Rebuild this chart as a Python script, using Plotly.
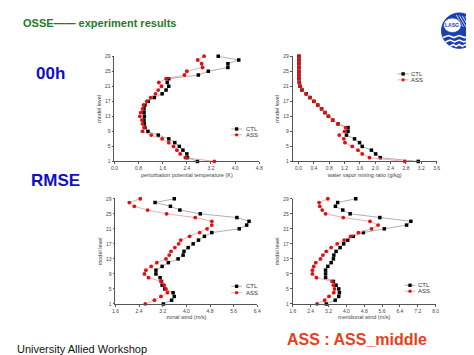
import plotly.graph_objects as go

levels = list(range(1, 30))

# perturbation potential temperature (K), level 1..29
ppt_ctl = [2.75, 2.42, 2.40, 2.27, 2.15, 2.00, 1.80, 1.45, 1.11, 1.01, 0.99, 0.98, 0.99, 0.98, 0.98,
           1.01, 1.12, 1.32, 1.58, 1.71, 1.80, 1.75, 1.80, 2.78, 3.11, 3.76, 3.76, 4.12, 3.44]
ppt_ass = [3.31, 2.35, 2.18, 2.07, 1.96, 1.80, 1.58, 1.22, 0.93, 0.98, 0.93, 0.91, 0.84, 0.87, 0.93,
           0.96, 1.07, 1.20, 1.36, 1.45, 1.56, 1.47, 1.71, 2.32, 2.40, 2.92, 2.89, 2.76, 2.97]

# water vapor mixing ratio (g/kg)
wv_ctl = [3.12, 2.13, 2.01, 1.90, 1.66, 1.59, 1.46, 1.25, 1.29, 1.29, 1.03, 0.89, 0.78, 0.69, 0.60,
          0.50, 0.40, 0.30, 0.20, 0.09, 0.04, 0.02, 0.01, 0.01, 0.01, 0.01, 0.01, 0.01, 0.01]
wv_ass = [2.77, 1.85, 1.66, 1.55, 1.40, 1.21, 1.18, 1.06, 1.20, 1.23, 1.03, 0.89, 0.78, 0.69, 0.60,
          0.50, 0.40, 0.30, 0.20, 0.09, 0.04, 0.02, 0.01, 0.01, 0.01, 0.01, 0.01, 0.01, 0.01]

# zonal wind (m/s)
u_ctl = [3.22, 3.50, 3.59, 3.55, 3.27, 3.18, 3.16, 3.11, 2.97, 2.97, 3.18, 3.39, 3.72, 3.89, 3.92,
         4.06, 4.23, 4.41, 4.61, 4.86, 5.79, 6.04, 6.12, 5.71, 4.47, 3.78, 3.46, 2.94, 3.59]
u_ass = [2.61, 2.92, 3.14, 3.36, 3.31, 3.25, 3.14, 2.72, 2.58, 2.63, 2.81, 3.00, 3.31, 3.42, 3.48,
         3.61, 3.74, 3.81, 4.11, 4.45, 4.70, 4.86, 4.86, 4.30, 3.33, 2.69, 2.24, 2.07, 2.44]

# meridional wind (m/s)
v_ctl = [3.10, 3.50, 3.66, 3.69, 3.66, 3.54, 3.42, 3.07, 3.07, 3.07, 3.17, 3.32, 3.42, 3.44, 3.54,
         3.72, 3.88, 4.06, 4.31, 4.76, 5.70, 6.70, 6.89, 5.50, 4.17, 3.84, 3.51, 3.61, 4.42]
v_ass = [2.69, 3.03, 3.22, 3.44, 3.47, 3.42, 3.36, 2.66, 2.48, 2.48, 2.54, 2.63, 2.84, 2.95, 3.10,
         3.32, 3.59, 3.90, 4.19, 4.54, 5.13, 5.42, 5.06, 3.86, 3.07, 2.92, 2.81, 2.78, 3.17]

series_names = ["CTL", "ASS"]
x_titles = ["perturbation potential temperature (K)", "water vapor mixing ratio (g/kg)",
            "zonal wind (m/s)", "meridional wind (m/s)"]
x_ranges = [[0, 4.8], [-0.15, 3.6], [1.6, 6.4], [1.6, 8.0]]
x_dticks = [0.8, 0.4, 0.8, 0.8]
y_ticks = [1, 5, 9, 13, 17, 21, 25, 29]

W, H = 474, 355
def px(x):
    return x / W
def py(y):
    return 1 - y / H

boxes = [(105, 252, 46, 153), (286, 432, 46, 153), (106, 250, 191, 298), (286, 431, 191, 298)]
# legend: marker centre x, text x, row y (ctl), row y (ass)
legend_pos = [(229, 236, 120, 126), (398, 404, 64, 70), (229, 236, 280, 286.5), (405, 411, 279, 285)]
data = [(ppt_ctl, ppt_ass), (wv_ctl, wv_ass), (u_ctl, u_ass), (v_ctl, v_ass)]

CTL_LINE, ASS_LINE = "#9a9a9a", "#e79a9a"
CTL_MK, ASS_MK = "black", "#e01010"

fig = go.Figure()
tick_font = dict(family="Liberation Sans, Arial", size=5, color="#444")
shapes = []
annotations = []
for i, ((ctl, ass), box) in enumerate(zip(data, boxes)):
    n = "" if i == 0 else str(i + 1)
    fig.add_trace(go.Scatter(x=ctl, y=levels, mode="lines+markers", name=series_names[0],
                             xaxis="x" + n, yaxis="y" + n, showlegend=False, cliponaxis=False,
                             line=dict(color=CTL_LINE, width=0.8),
                             marker=dict(symbol="square", size=3.5, color=CTL_MK)))
    fig.add_trace(go.Scatter(x=ass, y=levels, mode="lines+markers", name=series_names[1],
                             xaxis="x" + n, yaxis="y" + n, showlegend=False, cliponaxis=False,
                             line=dict(color=ASS_LINE, width=0.8),
                             marker=dict(symbol="circle", size=3.8, color=ASS_MK)))
    x0, x1, y0, y1 = box
    fig.layout["xaxis" + n] = dict(
        domain=[px(x0), px(x1)], range=x_ranges[i], anchor="y" + n,
        tick0=0, dtick=x_dticks[i], tickformat=".1f", ticks="outside", ticklen=2,
        tickcolor="#555", showline=True, linecolor="#555", linewidth=0.8,
        showgrid=False, zeroline=False, tickfont=tick_font,
        title=dict(text=x_titles[i], font=dict(family="Liberation Sans, Arial", size=5.5, color="#444"), standoff=2))
    fig.layout["yaxis" + n] = dict(
        domain=[py(y1), py(y0)], range=[1, 29], anchor="x" + n,
        tickvals=y_ticks, ticks="outside", ticklen=2, tickcolor="#555",
        showline=True, linecolor="#555", linewidth=0.8,
        showgrid=False, zeroline=False, tickfont=tick_font,
        title=dict(text="model level", font=dict(family="Liberation Sans, Arial", size=5.5, color="#444"), standoff=3))
    # manual legend (compact, as in the Origin chart)
    mx, tx, yc, ya = legend_pos[i]
    for name, yy, lc, mc, sym in [(series_names[0], yc, CTL_LINE, CTL_MK, "rect"),
                                  (series_names[1], ya, ASS_LINE, ASS_MK, "circle")]:
        shapes.append(dict(type="line", xref="paper", yref="paper", x0=px(mx - 5.5), x1=px(mx + 5.5),
                           y0=py(yy), y1=py(yy), line=dict(color=lc, width=0.8)))
        shapes.append(dict(type=sym, xref="paper", yref="paper", x0=px(mx - 1.7), x1=px(mx + 1.7),
                           y0=py(yy + 1.7), y1=py(yy - 1.7), line=dict(width=0), fillcolor=mc))
        annotations.append(dict(text=name, x=px(tx), y=py(yy), xanchor="left", yanchor="middle",
                                font=dict(family="Liberation Sans, Arial", size=6, color="#333")))

annotations += [
    dict(text="<b>OSSE—— experiment results</b>", x=px(10), y=py(12), xanchor="left", yanchor="middle",
         font=dict(family="Liberation Sans, Arial", size=11, color="#1f7a2a")),
    dict(text="<b>00h</b>", x=px(40), y=py(64), xanchor="center", yanchor="middle",
         font=dict(family="Liberation Sans, Arial", size=17, color="#1010c8")),
    dict(text="<b>RMSE</b>", x=px(45), y=py(172), xanchor="center", yanchor="middle",
         font=dict(family="Liberation Sans, Arial", size=17, color="#1010c8")),
    dict(text="University Allied Workshop", x=px(4), y=py(344), xanchor="left", yanchor="middle",
         font=dict(family="Liberation Sans, Arial", size=11, color="#111")),
    dict(text="<b>ASS : ASS_middle</b>", x=px(351), y=py(334), xanchor="center", yanchor="middle",
         font=dict(family="Liberation Sans, Arial", size=16, color="#e8401c")),
]
for a in annotations:
    a.update(xref="paper", yref="paper", showarrow=False)

# LASG logo (decoration)
BLUE = "#1c3fb0"
cx, cy, r = 455, 20, 18
shapes.append(dict(type="circle", xref="paper", yref="paper", x0=px(cx - r), x1=px(cx + r),
                   y0=py(cy + r), y1=py(cy - r), line=dict(color=BLUE, width=1), fillcolor=BLUE))
# hatch in the upper right (white lines)
for k in range(6):
    xs = 452 + k * 3
    shapes.append(dict(type="line", xref="paper", yref="paper", x0=px(xs), y0=py(4 + k * 0.5),
                       x1=px(xs + 7), y1=py(16 + k * 0.5), line=dict(color="white", width=0.8)))
# white oval with LASG
shapes.append(dict(type="circle", xref="paper", yref="paper", x0=px(439), x1=px(457),
                   y0=py(22), y1=py(7), line=dict(color=BLUE, width=0.8), fillcolor="white"))
annotations.append(dict(text="<b>LASG</b>", x=px(448), y=py(14.5), xanchor="center", yanchor="middle",
                        xref="paper", yref="paper", showarrow=False,
                        font=dict(family="Liberation Sans, Arial", size=5, color=BLUE)))
# white waves in the lower half
for yy in [26, 30.5, 35]:
    half = max((r * r - (yy - cy) ** 2) ** 0.5 - 0.5, 0)
    xa, xb = cx - half, cx + half
    steps = 6
    pts = []
    for s in range(steps + 1):
        xx = xa + (xb - xa) * s / steps
        off = -1.0 if s % 2 else 1.0
        pts.append((px(xx), py(yy + off)))
    path = "M " + " L ".join(f"{a:.5f},{b:.5f}" for a, b in pts)
    shapes.append(dict(type="path", xref="paper", yref="paper", path=path,
                       line=dict(color="white", width=1.6)))

fig.update_layout(width=W, height=H, margin=dict(l=0, r=0, t=0, b=0),
                  paper_bgcolor="white", plot_bgcolor="white", showlegend=False,
                  annotations=annotations, shapes=shapes,
                  font=dict(family="Liberation Sans, Arial"))
fig.write_html("out.html")
